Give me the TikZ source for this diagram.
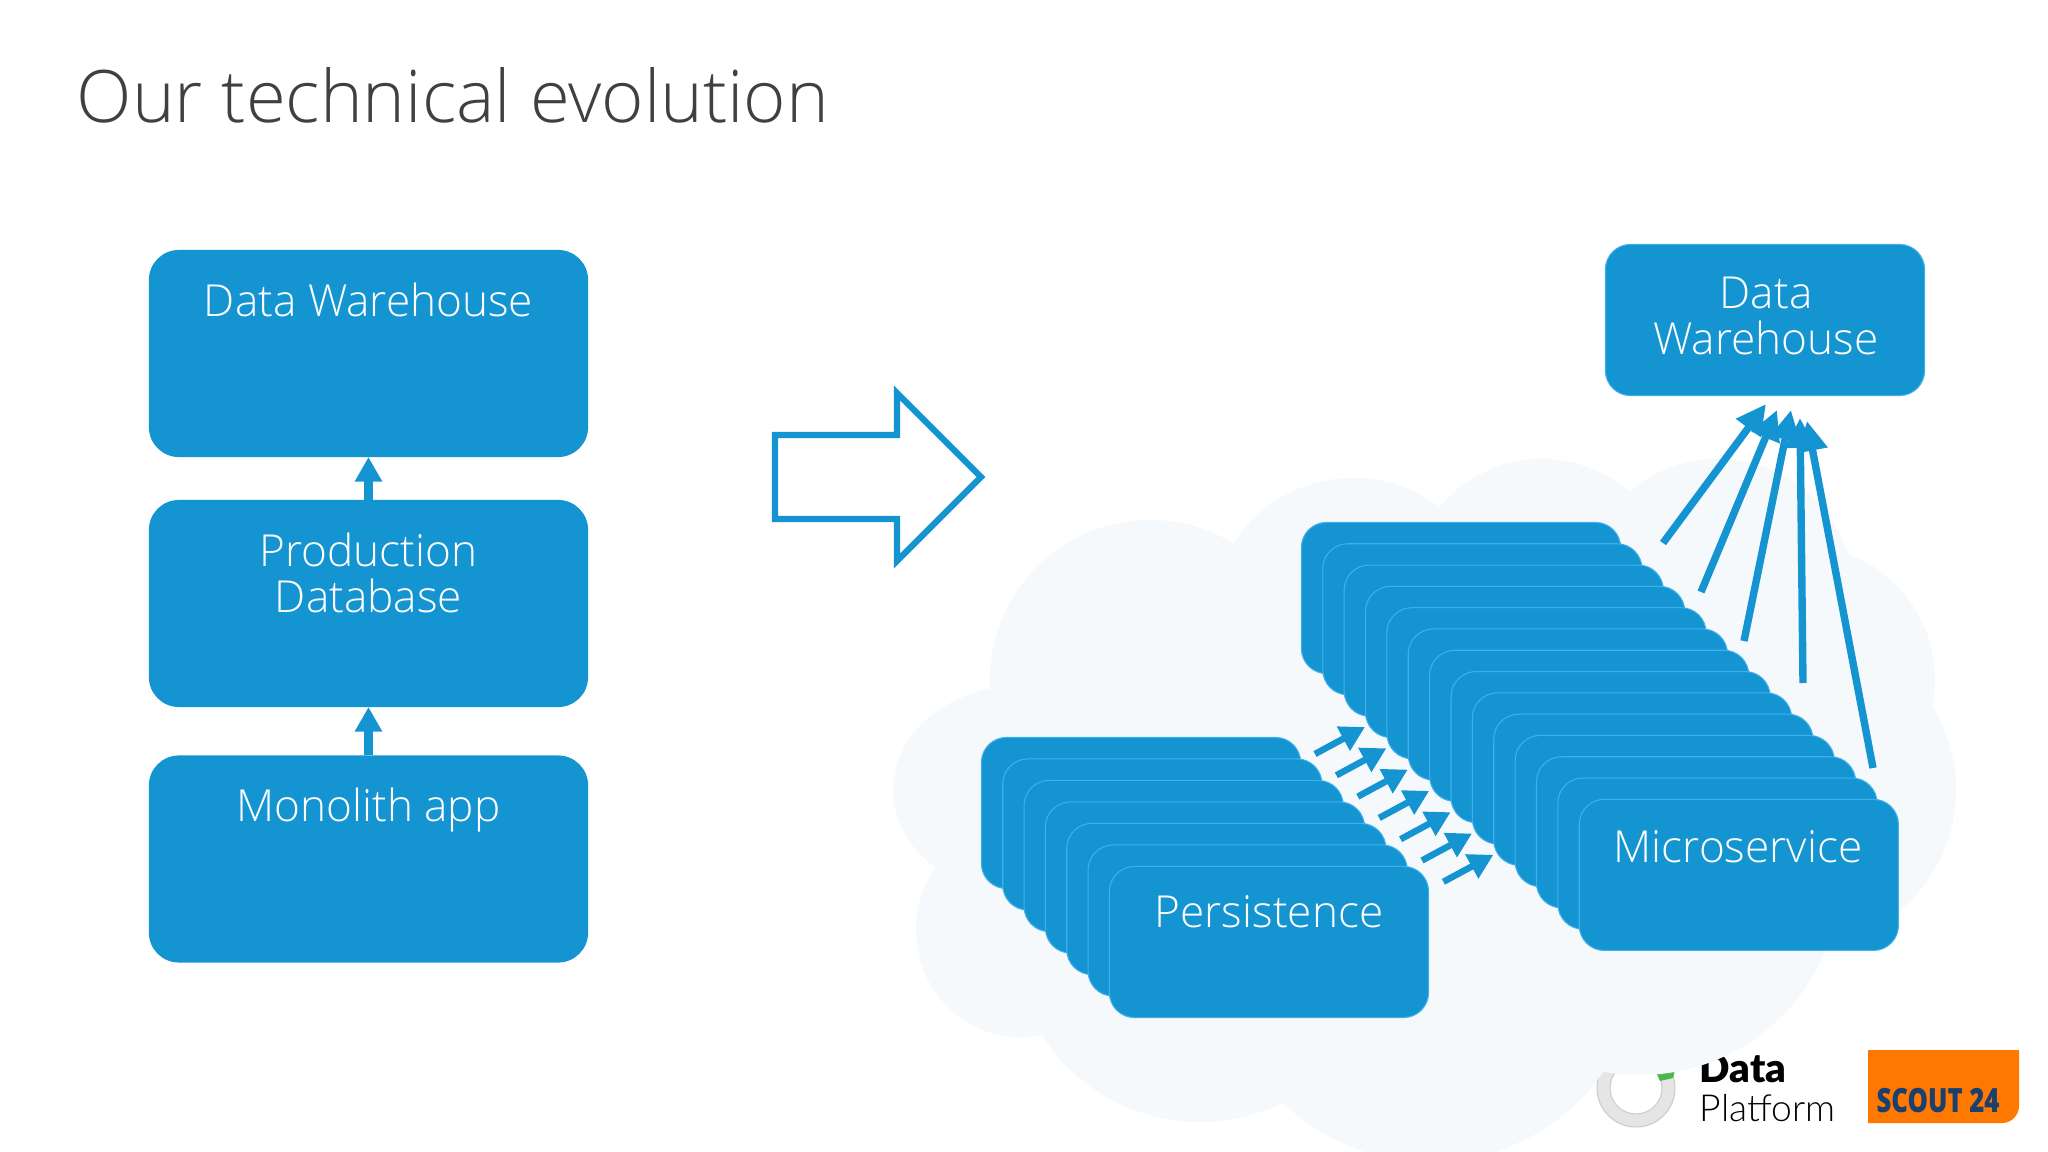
\documentclass[tikz,border=0pt]{standalone}
\usepackage{fontspec}
\setmainfont{Open Sans Light}
\newfontfamily\logofont{Lato Light}
\newfontfamily\logobold{Lato Black}
\newfontfamily\scoutfont{Open Sans Semibold}
\usetikzlibrary{arrows.meta}
\definecolor{boxblue}{HTML}{1594D2}
\definecolor{edgeblue}{HTML}{3FB0EC}
\definecolor{cloudpale}{HTML}{F5F9FC}
\definecolor{titlegrey}{HTML}{404040}
\definecolor{scoutorange}{HTML}{FF7900}
\definecolor{scoutnavy}{HTML}{1B3F6E}
\definecolor{ringgrey}{HTML}{E5E5E5}
\tikzset{
  bigbox/.style={draw=none, fill=boxblue, rectangle, rounded corners=0.3cm, minimum width=4.39cm, minimum height=2.07cm, inner sep=0pt, outer sep=0pt},
  stackbox/.style={draw=edgeblue, line width=0.3pt, fill=boxblue, rectangle, rounded corners=0.25cm, minimum width=3.19cm, minimum height=1.51cm, inner sep=0pt, outer sep=0pt},
  boxlabel/.style={text=white, align=center, inner sep=0pt, font=\fontsize{12.55}{13.1}\selectfont},
  uparrow/.style={draw=boxblue, line width=2.3pt, -{Triangle[length=7pt, width=7.4pt]}},
  longarrow/.style={draw=boxblue, line width=2.1pt, -{Triangle[length=8.5pt, width=8.2pt]}},
  shortarrow/.style={draw=boxblue, line width=1.85pt, -{Triangle[length=7pt, width=7.4pt]}}
}
\begin{document}
\begin{tikzpicture}[x=0.01cm, y=-0.01cm]
  \useasboundingbox (0,0) rectangle (2048,1152);
  \clip (0,0) rectangle (2048,1152);
  \fill[white] (0,0) rectangle (2048,1152);
  \node[anchor=base west, inner sep=0pt, text=titlegrey, font=\fontsize{20.6}{26}\selectfont] (title) at (76,123) {Our technical evolution};
  % Logos sit under the cloud
  \draw[ringgrey, line width=3.7pt] (1636,1088) circle (32.5);
  \draw[black!20, line width=0.3pt] (1636,1088) circle (39) (1636,1088) circle (26);
  \fill[green!60!black!70!white] (1655,1070) -- (1675,1070) -- (1673,1078) -- (1660,1081) -- cycle;
  \node[anchor=base west, inner sep=0pt, text=black, font=\logobold\fontsize{11.4}{12}\selectfont] (logodata) at (1699,1082) {Data};
  \node[anchor=base west, inner sep=0pt, text=black, font=\logofont\fontsize{10.6}{12}\selectfont] (logoplatform) at (1699,1121) {Platform};
  \fill[scoutorange] (1868,1050) -- (2019,1050) -- (2019,1106) arc[start angle=0, delta angle=90, radius=17] -- (1868,1123) -- cycle;
  \node[anchor=base, inner sep=0pt, text=scoutnavy, xscale=0.77, font=\scoutfont\bfseries\fontsize{9.5}{12}\selectfont] (scout) at (1938,1112) {SCOUT 24};
  % The cloud
  \fill[cloudpale]
    (1150,680) circle (160) (1353,620) circle (142) (1542,592) circle (133)
    (1718,595) circle (136) (1800,680) circle (135) (1798,790) circle (158)
    (1640,875) circle (200) (1430,950) circle (212) (1200,935) circle (187)
    (1020,930) ellipse (104 and 107) (1023,790) ellipse (130 and 105);
  \fill[cloudpale] (1150,680) -- (1353,620) -- (1542,592) -- (1718,595) -- (1800,680) -- (1798,790) -- (1640,875) -- (1430,950) -- (1200,935) -- (1020,930) -- (1023,790) -- cycle;
  % Left column
  \node[bigbox] (warehouse) at (368.5,353.5) {};
  \node[bigbox] (database) at (368.5,603.5) {};
  \node[bigbox] (monolith) at (368.5,859) {};
  \node[boxlabel] (warehousetext) at (368.5,300) {Data Warehouse};
  \node[boxlabel] (databasetext) at (368.5,573) {Production\\Database};
  \node[boxlabel] (monolithtext) at (368.5,810) {Monolith app};
  \draw[uparrow] (database) -- (warehouse);
  \draw[uparrow] (monolith) -- (database);
  % Big hollow arrow
  \draw[draw=boxblue, line width=1.75pt, miter limit=10] (775,435) -- (897,435) -- (897,393) -- (981,477) -- (897,561) -- (897,519) -- (775,519) -- cycle;
  % Right side
  \node[stackbox] (target) at (1765,320) {};
  \node[boxlabel] (targettext) at (1766,316) {Data\\Warehouse};
  \foreach \i in {0,...,13}
    \node[stackbox] (micro\i) at ({1461+21.37*\i},{598+21.3*\i}) {};
  \foreach \i in {0,...,6}
    \node[stackbox] (persist\i) at ({1141+21.33*\i},{813+21.5*\i}) {};
  \node[boxlabel] (microtext) at (1738,847) {Microservice};
  \node[boxlabel] (persisttext) at (1269,912) {Persistence};
  % Arrows between the stacks
  \foreach \i in {0,...,6} {
    \coordinate (from\i) at ({1315+21.4*\i},{754+21.3*\i});
    \coordinate (to\i) at ({1365+21.4*\i},{727+21.3*\i});
    \draw[shortarrow] (from\i) -- (to\i);
  }
  % Arrows up to the warehouse
  \foreach \n/\ax/\ay/\bx/\by in {a/1663/543/1766/404, b/1701/592/1777/410, c/1744/641/1791/410, d/1803/683/1800/418, e/1873/768/1807/421} {
    \coordinate (start\n) at (\ax,\ay);
    \coordinate (end\n) at (\bx,\by);
    \draw[longarrow] (start\n) -- (end\n);
  }
\end{tikzpicture}
\end{document}
